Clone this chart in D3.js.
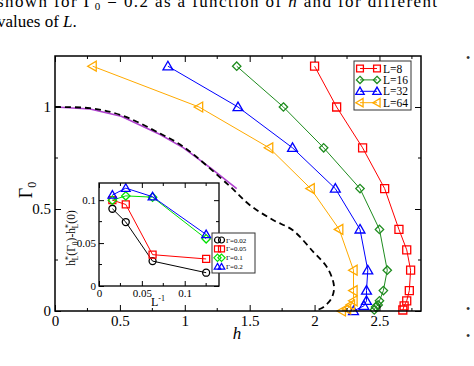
<!DOCTYPE html>
<html><head><meta charset="utf-8">
<script src="https://cdn.jsdelivr.net/npm/d3@7"></script>
<style>body{margin:0;background:#fff}svg{display:block}</style>
</head><body>
<script>
// ---- main chart data ----
const seriesNames = ["L=8","L=16","L=32","L=64"];
const h8   = [2.00,2.17,2.37,2.54,2.65,2.71,2.74,2.73,2.71,2.69,2.68];
const g8   = [1.2,1.0,0.8,0.6,0.4,0.3,0.2,0.1,0.05,0.025,0.005];
const h16  = [1.40,1.76,2.07,2.35,2.50,2.56,2.53,2.50,2.49,2.47,2.46];
const g16  = [1.2,1.0,0.8,0.6,0.4,0.2,0.1,0.05,0.03,0.02,0.005];
const h32  = [0.87,1.41,1.83,2.16,2.35,2.41,2.40,2.40,2.38,2.30];
const g32  = [1.2,1.0,0.8,0.6,0.4,0.2,0.1,0.05,0.025,0.0];
const h64  = [0.29,1.11,1.65,1.97,2.19,2.30,2.30,2.30,2.28,2.25,2.21];
const g64  = [1.2,1.0,0.8,0.6,0.4,0.2,0.1,0.05,0.03,0.01,0.0];
// dashed black curve and purple curve
const hDash = [0,0.27,0.51,0.81,0.99,1.35,1.50,1.68,1.83,1.99,2.10,2.15,2.13,2.07,2.0];
const gDash = [1.0,0.994,0.96,0.87,0.805,0.61,0.52,0.446,0.397,0.29,0.21,0.12,0.062,0.02,0.0];
const hPurp = [0,0.27,0.51,0.81,0.99,1.2,1.40];
const gPurp = [1.0,0.99,0.955,0.865,0.80,0.70,0.60];
const xTicks = [0,0.5,1,1.5,2,2.5];
const yTicks = [0,0.5,1];
// ---- inset data ----
const invL = [1/64,1/32,1/16,1/8];
const insetNames = ["Γ=0.02","Γ=0.05","Γ=0.1","Γ=0.2"];
const d002 = [0.090,0.0745,0.029,0.0155];
const d005 = [0.100,0.095,0.0365,0.0315];
const d01  = [0.100,0.105,0.1035,0.055];
const d02  = [0.106,0.114,0.104,0.060];
const inXTicks = [0,0.05,0.1];
const inYTicks = [0,0.05,0.1];

const SERIF='"Liberation Serif","Times New Roman",serif';
const W=474,H=366;
const svg=d3.select("body").append("svg").attr("width",W).attr("height",H).attr("font-family",SERIF);

// paper text
svg.append("text").attr("x",-3).attr("y",7).attr("font-size",17).attr("textLength",440)
  .html('shown for Γ<tspan font-size="11" dy="3">0</tspan><tspan dy="-3"> = 0.2 as a function of </tspan><tspan font-style="italic">h</tspan> and for different');
svg.append("text").attr("x",-3).attr("y",27).attr("font-size",17).html('values of <tspan font-style="italic">L</tspan>.');
// right margin fragments
[[62,"•"],[313,"•"],[340,"•"]].forEach(d=>svg.append("text").attr("x",466).attr("y",d[0]).attr("font-size",12).attr("fill","#333").text(d[1]));

function markerPath(type,s){
  const r=s/2;
  if(type==="square") return `M${-r},${-r}h${s}v${s}h${-s}Z`;
  if(type==="diamond") return `M0,${-r*1.2}L${r*1.2},0L0,${r*1.2}L${-r*1.2},0Z`;
  if(type==="tri") return `M0,${-r*1.1}L${r*1.1},${r*0.8}L${-r*1.1},${r*0.8}Z`;
  if(type==="triL") return `M${-r*1.1},0L${r*0.8},${-r*1.1}L${r*0.8},${r*1.1}Z`;
  if(type==="circle") return d3.symbol(d3.symbolCircle, Math.PI*r*r)();
}

// ---- main plot ----
const x=d3.scaleLinear().domain([0,2.82]).range([55,421]);
const y=d3.scaleLinear().domain([0,1.25]).range([311,56]);
const L=55,R=421,T=56,B=311;

const line=d3.line().x(d=>x(d[0])).y(d=>y(d[1]));
const zip=(a,b)=>a.map((v,i)=>[v,b[i]]);

svg.append("path").attr("d",line(zip(hPurp,gPurp))).attr("fill","none").attr("stroke","#b040d0").attr("stroke-width",1.6);
svg.append("path").attr("d",d3.line().curve(d3.curveCatmullRom).x(d=>x(d[0])).y(d=>y(d[1]))(zip(hDash,gDash)))
  .attr("fill","none").attr("stroke","#000").attr("stroke-width",1.8).attr("stroke-dasharray","6,4");

const series=[
  {name:seriesNames[0],h:h8,g:g8,color:"#ff0000",m:"square",s:8},
  {name:seriesNames[1],h:h16,g:g16,color:"#1e8c1e",m:"diamond",s:7},
  {name:seriesNames[2],h:h32,g:g32,color:"#0000ff",m:"tri",s:9},
  {name:seriesNames[3],h:h64,g:g64,color:"#ffaa00",m:"triL",s:9}
];
series.forEach(sr=>{
  const pts=zip(sr.h,sr.g);
  svg.append("path").attr("d",line(pts)).attr("fill","none").attr("stroke",sr.color).attr("stroke-width",1);
  svg.selectAll(null).data(pts).enter().append("path")
    .attr("d",markerPath(sr.m,sr.s)).attr("transform",d=>`translate(${x(d[0])},${y(d[1])})`)
    .attr("fill","none").attr("stroke",sr.color).attr("stroke-width",1.3);
});

// axes (inward ticks on all sides)
const ax=svg.append("g");
const xMinor=d3.range(0.25,2.8,0.5), yMinor=[0.25,0.75];
const gxb=ax.append("g").attr("transform",`translate(0,${B})`).call(d3.axisBottom(x).tickValues(xTicks).tickSizeInner(-6).tickSizeOuter(0).tickFormat(d=>d));
gxb.selectAll("text").attr("y",4).attr("dy","0.71em").attr("font-size",15).attr("fill","#000");
gxb.append("g").selectAll("line").data(xMinor).enter().append("line").attr("x1",x).attr("x2",x).attr("y1",0).attr("y2",-3).attr("stroke","#000");
const gxt=ax.append("g").attr("transform",`translate(0,${T})`).call(d3.axisTop(x).tickValues(xTicks).tickSizeInner(-6).tickSizeOuter(0).tickFormat(""));
gxt.append("g").selectAll("line").data(xMinor).enter().append("line").attr("x1",x).attr("x2",x).attr("y1",0).attr("y2",3).attr("stroke","#000");
const gyl=ax.append("g").attr("transform",`translate(${L},0)`).call(d3.axisLeft(y).tickValues(yTicks).tickSizeInner(-6).tickSizeOuter(0).tickFormat(d=>d));
gyl.selectAll("text").attr("x",-4).attr("font-size",15).attr("fill","#000");
gyl.append("g").selectAll("line").data(yMinor).enter().append("line").attr("y1",y).attr("y2",y).attr("x1",0).attr("x2",3).attr("stroke","#000");
const gyr=ax.append("g").attr("transform",`translate(${R},0)`).call(d3.axisRight(y).tickValues(yTicks).tickSizeInner(-6).tickSizeOuter(0).tickFormat(""));
gyr.append("g").selectAll("line").data(yMinor).enter().append("line").attr("y1",y).attr("y2",y).attr("x1",0).attr("x2",-3).attr("stroke","#000");
ax.selectAll(".domain").remove();
ax.selectAll(".tick line").attr("stroke","#000");
ax.selectAll("g").attr("font-family",SERIF);
svg.append("rect").attr("x",L).attr("y",T).attr("width",R-L).attr("height",B-T).attr("fill","none").attr("stroke","#000").attr("stroke-width",1.5);

svg.append("text").attr("x",237).attr("y",339).attr("font-size",17).attr("font-style","italic").attr("text-anchor","middle").text("h");
svg.append("text").attr("transform","translate(32,190) rotate(-90)").attr("font-size",18).attr("text-anchor","middle")
  .html('Γ<tspan font-size="12" dy="4">0</tspan>');

// legend
const lg=svg.append("g");
lg.append("rect").attr("x",354).attr("y",61).attr("width",57).attr("height",49).attr("fill","#fff").attr("stroke","#333").attr("stroke-width",1);
series.forEach((sr,i)=>{
  const yy=68.5+i*11.4;
  lg.append("line").attr("x1",360).attr("x2",377).attr("y1",yy).attr("y2",yy).attr("stroke",sr.color).attr("stroke-width",1);
  [360,377].forEach(xx=>lg.append("path").attr("d",markerPath(sr.m,sr.s*0.85)).attr("transform",`translate(${xx},${yy})`).attr("fill","none").attr("stroke",sr.color).attr("stroke-width",1.3));
  lg.append("text").attr("x",383).attr("y",yy+4).attr("font-size",11.5).text(sr.name);
});

// ---- inset ----
const iL=99,iR=219,iT=183,iB=286;
const xi=d3.scaleLinear().domain([0,0.14]).range([iL,iR]);
const yi=d3.scaleLinear().domain([0,0.12]).range([iB,iT]);
svg.append("rect").attr("x",iL).attr("y",iT).attr("width",iR-iL).attr("height",iB-iT).attr("fill","#fff");
const iser=[
  {name:insetNames[0],v:d002,color:"#000",m:"circle"},
  {name:insetNames[1],v:d005,color:"#ff0000",m:"square"},
  {name:insetNames[2],v:d01,color:"#00e000",m:"diamond"},
  {name:insetNames[3],v:d02,color:"#0000ff",m:"tri"}
];
const iline=d3.line().x(d=>xi(d[0])).y(d=>yi(d[1]));
iser.forEach(sr=>{
  const pts=zip(invL,sr.v);
  svg.append("path").attr("d",iline(pts)).attr("fill","none").attr("stroke",sr.color).attr("stroke-width",1);
  svg.selectAll(null).data(pts).enter().append("path")
    .attr("d",markerPath(sr.m,sr.m==="tri"?8:7)).attr("transform",d=>`translate(${xi(d[0])},${yi(d[1])})`)
    .attr("fill","none").attr("stroke",sr.color).attr("stroke-width",1.3);
});
const ia=svg.append("g");
const ixMinor=[0.025,0.075,0.125], iyMinor=[0.025,0.075];
const gib=ia.append("g").attr("transform",`translate(0,${iB})`).call(d3.axisBottom(xi).tickValues(inXTicks).tickSizeInner(-5).tickSizeOuter(0).tickFormat(d=>d));
gib.selectAll("text").attr("y",3).attr("dy","0.71em").attr("font-size",11).attr("fill","#000");
gib.append("g").selectAll("line").data(ixMinor).enter().append("line").attr("x1",xi).attr("x2",xi).attr("y1",0).attr("y2",-3).attr("stroke","#000");
const git=ia.append("g").attr("transform",`translate(0,${iT})`).call(d3.axisTop(xi).tickValues(inXTicks).tickSizeInner(-5).tickSizeOuter(0).tickFormat(""));
git.append("g").selectAll("line").data(ixMinor).enter().append("line").attr("x1",xi).attr("x2",xi).attr("y1",0).attr("y2",3).attr("stroke","#000");
const gil=ia.append("g").attr("transform",`translate(${iL},0)`).call(d3.axisLeft(yi).tickValues(inYTicks).tickSizeInner(-5).tickSizeOuter(0).tickFormat(d=>d));
gil.selectAll("text").attr("x",-3).attr("font-size",11).attr("fill","#000");
gil.append("g").selectAll("line").data(iyMinor).enter().append("line").attr("y1",yi).attr("y2",yi).attr("x1",0).attr("x2",3).attr("stroke","#000");
const gir=ia.append("g").attr("transform",`translate(${iR},0)`).call(d3.axisRight(yi).tickValues(inYTicks).tickSizeInner(-5).tickSizeOuter(0).tickFormat(""));
gir.append("g").selectAll("line").data(iyMinor).enter().append("line").attr("y1",yi).attr("y2",yi).attr("x1",0).attr("x2",-3).attr("stroke","#000");
ia.selectAll(".domain").remove();
ia.selectAll(".tick line").attr("stroke","#000");
ia.selectAll("g").attr("font-family",SERIF);
svg.append("rect").attr("x",iL).attr("y",iT).attr("width",iR-iL).attr("height",iB-iT).attr("fill","none").attr("stroke","#000").attr("stroke-width",1.3);
svg.append("text").attr("x",158).attr("y",306).attr("font-size",12).attr("text-anchor","middle").html('L<tspan font-size="8" dy="-5">-1</tspan>');
svg.append("text").attr("transform","translate(75,238) rotate(-90)").attr("font-size",11.5).attr("text-anchor","middle")
  .html('h<tspan font-size="7.5" dy="-4">*</tspan><tspan font-size="7.5" dx="-4" dy="7">L</tspan><tspan dy="-3">(Γ</tspan><tspan font-size="7.5" dy="3">0</tspan><tspan dy="-3">)-h</tspan><tspan font-size="7.5" dy="-4">*</tspan><tspan font-size="7.5" dx="-4" dy="7">L</tspan><tspan dy="-3">(0)</tspan>');
// inset legend
const il=svg.append("g");
il.append("rect").attr("x",212).attr("y",233).attr("width",43).attr("height",40).attr("fill","#fff").attr("stroke","#333").attr("stroke-width",1);
iser.forEach((sr,i)=>{
  const yy=240+i*8.9;
  [217.5,221.5].forEach(xx=>il.append("path").attr("d",markerPath(sr.m,6)).attr("transform",`translate(${xx},${yy})`).attr("fill","none").attr("stroke",sr.color).attr("stroke-width",1.2));
  il.append("text").attr("x",226).attr("y",yy+2.5).attr("font-size",7).text(sr.name);
});
</script>
</body></html>
